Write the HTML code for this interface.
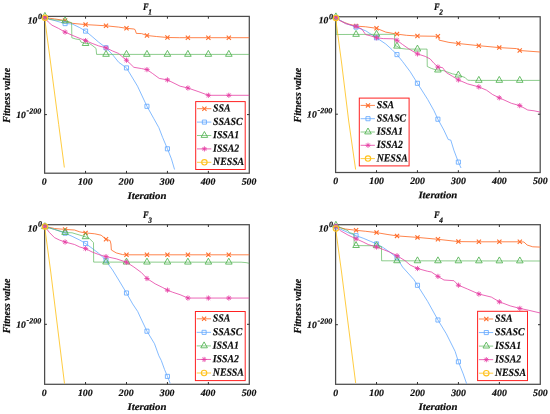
<!DOCTYPE html>
<html><head><meta charset="utf-8"><title>Convergence curves</title>
<style>
html,body{margin:0;padding:0;background:#fff}
svg{display:block}
text{font-family:"Liberation Serif",serif;font-weight:bold;font-style:italic;fill:#0c0c0c;stroke:#0c0c0c;stroke-width:.2px}
text.c{text-anchor:middle}
text.e{text-anchor:end}
.l{stroke-linejoin:round}
.m{stroke-width:.85}
.mx{stroke-width:1.1}
.mc{stroke-width:1.1}
</style></head>
<body>
<svg width="550" height="414" viewBox="0 0 550 414">
<rect width="550" height="414" fill="#fff"/>
<g id="plot1">
<clipPath id="c1"><rect x="44.62" y="16.4" width="205.28" height="156.79999999999998"/></clipPath>
<rect x="44.62" y="16.4" width="204.68" height="156.80" fill="none" stroke="#4c4c4c" stroke-width="1.25"/>
<path d="M85.56 173.2v-2.3M85.56 16.4v2.3M126.49 173.2v-2.3M126.49 16.4v2.3M167.43 173.2v-2.3M167.43 16.4v2.3M208.36 173.2v-2.3M208.36 16.4v2.3M44.62 114.6h2.3M249.3 114.6h-2.3" stroke="#2e2e2e" stroke-width="1" fill="none"/>
<g stroke="#FF6E2C" fill="none">
<path class="l" stroke-width="0.85" clip-path="url(#c1)" d="M44.62 17.65L54.44 18.90L65.09 20.50L72.05 23.30L85.56 24.60L96.04 25.20L106.02 25.80L118.71 27.10L126.49 28.30L133.86 29.00L135.09 29.60L136.32 33.40L141.64 33.60L146.96 35.50L156.38 36.50L167.43 37.50L179.71 37.70L249.30 37.70"/>
<path class="mx" d="M42.82 15.55L47.02 19.75M42.82 19.75L47.02 15.55"/><path class="mx" d="M62.99 18.40L67.19 22.60M62.99 22.60L67.19 18.40"/><path class="mx" d="M83.46 22.50L87.66 26.70M83.46 26.70L87.66 22.50"/><path class="mx" d="M103.92 23.70L108.12 27.90M103.92 27.90L108.12 23.70"/><path class="mx" d="M124.39 26.20L128.59 30.40M124.39 30.40L128.59 26.20"/><path class="mx" d="M144.86 33.40L149.06 37.60M144.86 37.60L149.06 33.40"/><path class="mx" d="M165.33 35.40L169.53 39.60M165.33 39.60L169.53 35.40"/><path class="mx" d="M185.80 35.60L190.00 39.80M185.80 39.80L190.00 35.60"/><path class="mx" d="M206.26 35.60L210.46 39.80M206.26 39.80L210.46 35.60"/><path class="mx" d="M226.73 35.60L230.93 39.80M226.73 39.80L230.93 35.60"/>
</g>
<g stroke="#64A9FF" fill="none">
<path class="l" stroke-width="0.8" clip-path="url(#c1)" d="M44.62 17.65L65.09 23.60L72.05 23.90L79.82 27.70L85.56 31.10L92.11 36.50L98.66 42.20L106.02 47.80L112.57 54.70L118.71 62.30L126.49 67.90L137.54 86.20L146.96 106.30L153.92 118.80L158.83 127.60L162.72 137.70L167.43 148.80L171.44 158.90L174.55 169.50"/>
<path class="m" d="M42.87 15.60h4.1v4.1h-4.1z"/><path class="m" d="M63.04 21.55h4.1v4.1h-4.1z"/><path class="m" d="M83.51 29.05h4.1v4.1h-4.1z"/><path class="m" d="M103.97 45.75h4.1v4.1h-4.1z"/><path class="m" d="M124.44 65.85h4.1v4.1h-4.1z"/><path class="m" d="M144.91 104.25h4.1v4.1h-4.1z"/><path class="m" d="M165.38 146.75h4.1v4.1h-4.1z"/>
</g>
<g stroke="#4FB24F" fill="none">
<path class="l" stroke-width="0.65" clip-path="url(#c1)" d="M44.62 16.40L45.44 17.40L49.53 19.50L65.09 20.90L71.64 22.70L71.84 37.75L75.73 39.00L79.82 39.60L81.05 42.20L85.56 43.60L89.65 43.60L92.11 45.30L96.04 48.40L96.61 54.40L249.30 54.40"/>
<path class="m" d="M44.92 12.40l3.3 5.9h-6.6z"/><path class="m" d="M65.09 16.90l3.3 5.9h-6.6z"/><path class="m" d="M85.56 39.60l3.3 5.9h-6.6z"/><path class="m" d="M106.02 50.40l3.3 5.9h-6.6z"/><path class="m" d="M126.49 50.40l3.3 5.9h-6.6z"/><path class="m" d="M146.96 50.40l3.3 5.9h-6.6z"/><path class="m" d="M167.43 50.40l3.3 5.9h-6.6z"/><path class="m" d="M187.90 50.40l3.3 5.9h-6.6z"/><path class="m" d="M208.36 50.40l3.3 5.9h-6.6z"/><path class="m" d="M228.83 50.40l3.3 5.9h-6.6z"/>
</g>
<g stroke="#E640A4" fill="none">
<path class="l" stroke-width="0.8" clip-path="url(#c1)" d="M44.62 17.65L48.30 22.00L51.99 25.20L58.33 28.30L65.09 32.10L72.05 35.20L79.82 38.40L85.56 40.60L92.11 43.40L98.66 45.90L106.02 47.80L112.57 51.00L118.71 53.50L121.38 56.00L126.49 60.20L133.86 67.30L141.64 68.60L146.96 69.60L152.69 73.60L159.24 78.40L167.43 79.90L180.12 86.20L187.90 88.00L198.95 91.80L208.36 95.30L249.30 95.30"/>
<path class="m" d="M42.32 17.65h5.2M44.92 15.05v5.2M43.08 15.81l3.68 3.68M43.08 19.49l3.68 -3.68"/><path class="m" d="M62.49 32.10h5.2M65.09 29.50v5.2M63.25 30.26l3.68 3.68M63.25 33.94l3.68 -3.68"/><path class="m" d="M82.96 40.60h5.2M85.56 38.00v5.2M83.72 38.76l3.68 3.68M83.72 42.44l3.68 -3.68"/><path class="m" d="M103.42 47.80h5.2M106.02 45.20v5.2M104.19 45.96l3.68 3.68M104.19 49.64l3.68 -3.68"/><path class="m" d="M123.89 60.20h5.2M126.49 57.60v5.2M124.65 58.36l3.68 3.68M124.65 62.04l3.68 -3.68"/><path class="m" d="M144.36 69.60h5.2M146.96 67.00v5.2M145.12 67.76l3.68 3.68M145.12 71.44l3.68 -3.68"/><path class="m" d="M164.83 79.90h5.2M167.43 77.30v5.2M165.59 78.06l3.68 3.68M165.59 81.74l3.68 -3.68"/><path class="m" d="M185.30 88.00h5.2M187.90 85.40v5.2M186.06 86.16l3.68 3.68M186.06 89.84l3.68 -3.68"/><path class="m" d="M205.76 95.30h5.2M208.36 92.70v5.2M206.53 93.46l3.68 3.68M206.53 97.14l3.68 -3.68"/><path class="m" d="M226.23 95.30h5.2M228.83 92.70v5.2M226.99 93.46l3.68 3.68M226.99 97.14l3.68 -3.68"/>
</g>
<g stroke="#FFC31F" fill="none">
<path class="l" stroke-width="0.85" clip-path="url(#c1)" d="M44.62 17.80L50.76 64.00L58.70 124.50L64.35 167.50"/>
<circle class="mc" cx="44.92" cy="17.80" r="2.7"/>
</g>
<text transform="translate(44.32 184.80) rotate(0.03)" font-size="9.8" class="c">0</text>
<text transform="translate(85.26 184.80) rotate(0.03)" font-size="9.8" class="c">100</text>
<text transform="translate(126.19 184.80) rotate(0.03)" font-size="9.8" class="c">200</text>
<text transform="translate(167.13 184.80) rotate(0.03)" font-size="9.8" class="c">300</text>
<text transform="translate(208.06 184.80) rotate(0.03)" font-size="9.8" class="c">400</text>
<text transform="translate(249.00 184.80) rotate(0.03)" font-size="9.8" class="c">500</text>
<text transform="translate(37.42 23.40) rotate(0.03)" font-size="9.6" class="e">10</text>
<text transform="translate(38.02 19.10) rotate(0.03)" font-size="8">0</text>
<text transform="translate(25.72 118.00) rotate(0.03)" font-size="9.6" class="e">10</text>
<text transform="translate(26.62 113.70) rotate(0.03)" font-size="8"><tspan dy="-0.9">-</tspan><tspan dy="0.9">200</tspan></text>
<text transform="translate(146.96 199.00) rotate(0.03) scale(1.08 1)" font-size="10" class="c">Iteration</text>
<text transform="translate(9.72 95.30) rotate(-90) scale(1.08 1)" font-size="9.3" class="c">Fitness value</text>
<text transform="translate(142.96 10.00) rotate(0.03) scale(0.86 1)" font-size="9.8">F</text>
<text transform="translate(148.36 14.50) rotate(0.03) scale(0.92 1)" font-size="8">1</text>
<rect x="195.7" y="101.6" width="49.50" height="67.90" fill="#fff" stroke="#FF2020" stroke-width="1"/>
<g stroke="#FF6E2C" fill="none"><path class="l" stroke-width="0.85" d="M197.00 108.70H211.30"/><path class="mx" d="M202.30 106.60L206.50 110.80M202.30 110.80L206.50 106.60"/></g>
<text transform="translate(213.10 111.50) rotate(0.03) scale(0.893 1)" font-size="11">SSA</text>
<g stroke="#64A9FF" fill="none"><path class="l" stroke-width="0.8" d="M197.00 122.10H211.30"/><path class="m" d="M202.35 120.05h4.1v4.1h-4.1z"/></g>
<text transform="translate(213.10 124.90) rotate(0.03) scale(0.893 1)" font-size="11">SSASC</text>
<g stroke="#4FB24F" fill="none"><path class="l" stroke-width="0.65" d="M197.00 135.50H211.30"/><path class="m" d="M204.40 131.50l3.3 5.9h-6.6z"/></g>
<text transform="translate(213.10 138.30) rotate(0.03) scale(0.893 1)" font-size="11">ISSA1</text>
<g stroke="#E640A4" fill="none"><path class="l" stroke-width="0.8" d="M197.00 148.90H211.30"/><path class="m" d="M201.80 148.90h5.2M204.40 146.30v5.2M202.56 147.06l3.68 3.68M202.56 150.74l3.68 -3.68"/></g>
<text transform="translate(213.10 151.70) rotate(0.03) scale(0.893 1)" font-size="11">ISSA2</text>
<g stroke="#FFC31F" fill="none"><path class="l" stroke-width="0.85" d="M197.00 162.30H211.30"/><circle class="mc" cx="204.40" cy="162.30" r="2.7"/></g>
<text transform="translate(213.10 165.10) rotate(0.03) scale(0.893 1)" font-size="11">NESSA</text>
</g>
<g id="plot2">
<clipPath id="c2"><rect x="335.6" y="16.75" width="205.20000000000002" height="155.75"/></clipPath>
<rect x="335.6" y="16.75" width="204.60" height="155.75" fill="none" stroke="#4c4c4c" stroke-width="1.25"/>
<path d="M376.52 172.5v-2.3M376.52 16.75v2.3M417.44 172.5v-2.3M417.44 16.75v2.3M458.36 172.5v-2.3M458.36 16.75v2.3M499.28 172.5v-2.3M499.28 16.75v2.3M335.6 114.2h2.3M540.2 114.2h-2.3" stroke="#2e2e2e" stroke-width="1" fill="none"/>
<g stroke="#FF6E2C" fill="none">
<path class="l" stroke-width="0.85" clip-path="url(#c2)" d="M335.60 17.65L340.51 20.80L348.08 23.90L356.06 26.10L365.68 26.80L376.52 28.30L385.77 32.10L396.98 34.10L406.39 35.30L417.44 36.00L437.90 36.30L438.72 36.50L439.00 40.10L448.95 42.40L458.36 43.50L478.82 45.70L499.28 47.60L516.47 48.60L519.74 50.50L540.20 52.00"/>
<path class="mx" d="M333.80 15.55L338.00 19.75M333.80 19.75L338.00 15.55"/><path class="mx" d="M353.96 24.00L358.16 28.20M353.96 28.20L358.16 24.00"/><path class="mx" d="M374.42 26.20L378.62 30.40M374.42 30.40L378.62 26.20"/><path class="mx" d="M394.88 32.00L399.08 36.20M394.88 36.20L399.08 32.00"/><path class="mx" d="M415.34 33.90L419.54 38.10M415.34 38.10L419.54 33.90"/><path class="mx" d="M435.80 34.20L440.00 38.40M435.80 38.40L440.00 34.20"/><path class="mx" d="M456.26 41.40L460.46 45.60M456.26 45.60L460.46 41.40"/><path class="mx" d="M476.72 43.60L480.92 47.80M476.72 47.80L480.92 43.60"/><path class="mx" d="M497.18 45.50L501.38 49.70M497.18 49.70L501.38 45.50"/><path class="mx" d="M517.64 48.40L521.84 52.60M517.64 52.60L521.84 48.40"/>
</g>
<g stroke="#64A9FF" fill="none">
<path class="l" stroke-width="0.8" clip-path="url(#c2)" d="M335.60 17.65L345.42 23.30L356.06 27.10L365.68 30.80L376.52 37.75L385.77 44.00L392.07 49.70L396.98 54.60L402.55 61.50L410.07 71.50L417.44 83.30L427.67 99.40L433.97 110.70L437.90 119.20L443.87 130.10L448.25 139.50L450.79 140.10L453.86 150.20L458.36 162.10L461.02 168.00"/>
<path class="m" d="M333.85 15.60h4.1v4.1h-4.1z"/><path class="m" d="M354.01 25.05h4.1v4.1h-4.1z"/><path class="m" d="M374.47 35.70h4.1v4.1h-4.1z"/><path class="m" d="M394.93 52.55h4.1v4.1h-4.1z"/><path class="m" d="M415.39 81.25h4.1v4.1h-4.1z"/><path class="m" d="M435.85 117.15h4.1v4.1h-4.1z"/><path class="m" d="M456.31 160.05h4.1v4.1h-4.1z"/>
</g>
<g stroke="#4FB24F" fill="none">
<path class="l" stroke-width="0.65" clip-path="url(#c2)" d="M335.60 16.90L336.01 18.00L336.25 34.50L394.52 34.30L394.69 45.80L396.98 46.20L400.05 48.30L406.39 49.10L427.06 49.10L427.26 66.50L431.35 68.40L435.24 69.60L437.90 70.10L443.83 70.70L452.63 73.90L458.36 75.10L465.19 77.60L467.69 80.20L470.64 80.40L540.20 80.40"/>
<path class="m" d="M335.90 12.90l3.3 5.9h-6.6z"/><path class="m" d="M356.06 30.43l3.3 5.9h-6.6z"/><path class="m" d="M376.52 30.36l3.3 5.9h-6.6z"/><path class="m" d="M396.98 42.20l3.3 5.9h-6.6z"/><path class="m" d="M417.44 45.10l3.3 5.9h-6.6z"/><path class="m" d="M437.90 66.10l3.3 5.9h-6.6z"/><path class="m" d="M458.36 71.10l3.3 5.9h-6.6z"/><path class="m" d="M478.82 76.40l3.3 5.9h-6.6z"/><path class="m" d="M499.28 76.40l3.3 5.9h-6.6z"/><path class="m" d="M519.74 76.40l3.3 5.9h-6.6z"/>
</g>
<g stroke="#E640A4" fill="none">
<path class="l" stroke-width="0.8" clip-path="url(#c2)" d="M335.60 17.65L340.51 20.80L345.42 23.60L356.06 26.40L361.79 29.00L365.68 34.60L370.79 35.90L376.52 37.75L383.27 38.60L393.30 38.80L396.98 40.30L402.55 44.50L408.85 48.90L417.44 53.90L425.21 56.40L430.13 58.90L433.97 63.30L437.90 67.00L442.56 67.60L446.33 72.60L452.63 76.40L458.36 79.90L467.69 83.90L478.82 86.90L486.55 90.20L492.73 94.60L499.28 97.80L511.39 103.30L519.74 105.60L527.72 110.00L534.06 110.80L540.20 112.10"/>
<path class="m" d="M333.30 17.65h5.2M335.90 15.05v5.2M334.06 15.81l3.68 3.68M334.06 19.49l3.68 -3.68"/><path class="m" d="M353.46 26.40h5.2M356.06 23.80v5.2M354.22 24.56l3.68 3.68M354.22 28.24l3.68 -3.68"/><path class="m" d="M373.92 37.75h5.2M376.52 35.15v5.2M374.68 35.91l3.68 3.68M374.68 39.59l3.68 -3.68"/><path class="m" d="M394.38 40.30h5.2M396.98 37.70v5.2M395.14 38.46l3.68 3.68M395.14 42.14l3.68 -3.68"/><path class="m" d="M414.84 53.90h5.2M417.44 51.30v5.2M415.60 52.06l3.68 3.68M415.60 55.74l3.68 -3.68"/><path class="m" d="M435.30 67.00h5.2M437.90 64.40v5.2M436.06 65.16l3.68 3.68M436.06 68.84l3.68 -3.68"/><path class="m" d="M455.76 79.90h5.2M458.36 77.30v5.2M456.52 78.06l3.68 3.68M456.52 81.74l3.68 -3.68"/><path class="m" d="M476.22 86.90h5.2M478.82 84.30v5.2M476.98 85.06l3.68 3.68M476.98 88.74l3.68 -3.68"/><path class="m" d="M496.68 97.80h5.2M499.28 95.20v5.2M497.44 95.96l3.68 3.68M497.44 99.64l3.68 -3.68"/><path class="m" d="M517.14 105.60h5.2M519.74 103.00v5.2M517.90 103.76l3.68 3.68M517.90 107.44l3.68 -3.68"/>
</g>
<g stroke="#FFC31F" fill="none">
<path class="l" stroke-width="0.85" clip-path="url(#c2)" d="M335.60 18.00L341.74 64.00L348.69 121.00L355.61 169.50"/>
<circle class="mc" cx="335.90" cy="18.00" r="2.7"/>
</g>
<text transform="translate(335.70 184.10) rotate(0.03)" font-size="9.8" class="c">0</text>
<text transform="translate(376.62 184.10) rotate(0.03)" font-size="9.8" class="c">100</text>
<text transform="translate(417.54 184.10) rotate(0.03)" font-size="9.8" class="c">200</text>
<text transform="translate(458.46 184.10) rotate(0.03)" font-size="9.8" class="c">300</text>
<text transform="translate(499.38 184.10) rotate(0.03)" font-size="9.8" class="c">400</text>
<text transform="translate(540.30 184.10) rotate(0.03)" font-size="9.8" class="c">500</text>
<text transform="translate(328.40 23.35) rotate(0.03)" font-size="9.6" class="e">10</text>
<text transform="translate(329.00 19.15) rotate(0.03)" font-size="8">0</text>
<text transform="translate(316.70 117.60) rotate(0.03)" font-size="9.6" class="e">10</text>
<text transform="translate(317.60 113.30) rotate(0.03)" font-size="8"><tspan dy="-0.9">-</tspan><tspan dy="0.9">200</tspan></text>
<text transform="translate(437.90 198.30) rotate(0.03) scale(1.08 1)" font-size="10" class="c">Iteration</text>
<text transform="translate(301.10 95.12) rotate(-90) scale(1.08 1)" font-size="9.3" class="c">Fitness value</text>
<text transform="translate(433.90 10.35) rotate(0.03) scale(0.86 1)" font-size="9.8">F</text>
<text transform="translate(439.30 14.85) rotate(0.03) scale(0.92 1)" font-size="8">2</text>
<rect x="359.3" y="98.1" width="49.80" height="67.80" fill="#fff" stroke="#FF2020" stroke-width="1"/>
<g stroke="#FF6E2C" fill="none"><path class="l" stroke-width="0.85" d="M360.60 105.40H374.90"/><path class="mx" d="M365.90 103.30L370.10 107.50M365.90 107.50L370.10 103.30"/></g>
<text transform="translate(376.70 108.20) rotate(0.03) scale(0.893 1)" font-size="11">SSA</text>
<g stroke="#64A9FF" fill="none"><path class="l" stroke-width="0.8" d="M360.60 118.70H374.90"/><path class="m" d="M365.95 116.65h4.1v4.1h-4.1z"/></g>
<text transform="translate(376.70 121.50) rotate(0.03) scale(0.893 1)" font-size="11">SSASC</text>
<g stroke="#4FB24F" fill="none"><path class="l" stroke-width="0.65" d="M360.60 132.00H374.90"/><path class="m" d="M368.00 128.00l3.3 5.9h-6.6z"/></g>
<text transform="translate(376.70 134.80) rotate(0.03) scale(0.893 1)" font-size="11">ISSA1</text>
<g stroke="#E640A4" fill="none"><path class="l" stroke-width="0.8" d="M360.60 145.30H374.90"/><path class="m" d="M365.40 145.30h5.2M368.00 142.70v5.2M366.16 143.46l3.68 3.68M366.16 147.14l3.68 -3.68"/></g>
<text transform="translate(376.70 148.10) rotate(0.03) scale(0.893 1)" font-size="11">ISSA2</text>
<g stroke="#FFC31F" fill="none"><path class="l" stroke-width="0.85" d="M360.60 158.60H374.90"/><circle class="mc" cx="368.00" cy="158.60" r="2.7"/></g>
<text transform="translate(376.70 161.40) rotate(0.03) scale(0.893 1)" font-size="11">NESSA</text>
</g>
<g id="plot3">
<clipPath id="c3"><rect x="44.62" y="224.7" width="205.28" height="159.60000000000002"/></clipPath>
<rect x="44.62" y="224.7" width="204.68" height="159.60" fill="none" stroke="#4c4c4c" stroke-width="1.25"/>
<path d="M85.56 384.3v-2.3M85.56 224.7v2.3M126.49 384.3v-2.3M126.49 224.7v2.3M167.43 384.3v-2.3M167.43 224.7v2.3M208.36 384.3v-2.3M208.36 224.7v2.3M44.62 324.3h2.3M249.3 324.3h-2.3" stroke="#2e2e2e" stroke-width="1" fill="none"/>
<g stroke="#FF6E2C" fill="none">
<path class="l" stroke-width="0.85" clip-path="url(#c3)" d="M44.62 226.30L54.44 228.50L65.09 229.40L74.50 230.00L79.82 231.90L85.56 232.90L94.77 233.80L101.11 235.20L106.02 239.20L110.12 240.60L110.94 244.00L111.35 250.00L116.26 252.90L122.60 254.60L126.49 254.80L249.30 254.80"/>
<path class="mx" d="M42.82 224.20L47.02 228.40M42.82 228.40L47.02 224.20"/><path class="mx" d="M62.99 227.30L67.19 231.50M62.99 231.50L67.19 227.30"/><path class="mx" d="M83.46 230.80L87.66 235.00M83.46 235.00L87.66 230.80"/><path class="mx" d="M103.92 237.10L108.12 241.30M103.92 241.30L108.12 237.10"/><path class="mx" d="M124.39 252.70L128.59 256.90M124.39 256.90L128.59 252.70"/><path class="mx" d="M144.86 252.70L149.06 256.90M144.86 256.90L149.06 252.70"/><path class="mx" d="M165.33 252.70L169.53 256.90M165.33 256.90L169.53 252.70"/><path class="mx" d="M185.80 252.70L190.00 256.90M185.80 256.90L190.00 252.70"/><path class="mx" d="M206.26 252.70L210.46 256.90M206.26 256.90L210.46 252.70"/><path class="mx" d="M226.73 252.70L230.93 256.90M226.73 256.90L230.93 252.70"/>
</g>
<g stroke="#64A9FF" fill="none">
<path class="l" stroke-width="0.8" clip-path="url(#c3)" d="M44.62 226.30L54.44 229.40L65.09 233.20L72.05 236.30L79.82 240.10L85.56 243.50L92.11 248.30L98.66 253.30L106.02 260.20L109.42 265.70L112.57 270.00L118.71 280.00L126.49 293.00L132.63 303.90L137.71 311.50L140.70 318.00L146.96 331.20L154.53 343.75L158.83 355.70L161.29 360.50L164.56 369.50L167.43 376.40L170.17 383.30"/>
<path class="m" d="M42.87 224.25h4.1v4.1h-4.1z"/><path class="m" d="M63.04 231.15h4.1v4.1h-4.1z"/><path class="m" d="M83.51 241.45h4.1v4.1h-4.1z"/><path class="m" d="M103.97 258.15h4.1v4.1h-4.1z"/><path class="m" d="M124.44 290.95h4.1v4.1h-4.1z"/><path class="m" d="M144.91 329.15h4.1v4.1h-4.1z"/><path class="m" d="M165.38 374.35h4.1v4.1h-4.1z"/>
</g>
<g stroke="#4FB24F" fill="none">
<path class="l" stroke-width="0.65" clip-path="url(#c3)" d="M44.62 226.70L54.44 229.40L65.09 232.50L72.05 232.80L79.82 235.10L85.56 236.80L89.65 238.80L93.50 242.60L93.66 262.10L241.11 262.20L246.03 262.60L249.30 263.30"/>
<path class="m" d="M44.92 222.70l3.3 5.9h-6.6z"/><path class="m" d="M65.09 228.50l3.3 5.9h-6.6z"/><path class="m" d="M85.56 232.80l3.3 5.9h-6.6z"/><path class="m" d="M106.02 258.11l3.3 5.9h-6.6z"/><path class="m" d="M126.49 258.12l3.3 5.9h-6.6z"/><path class="m" d="M146.96 258.14l3.3 5.9h-6.6z"/><path class="m" d="M167.43 258.15l3.3 5.9h-6.6z"/><path class="m" d="M187.90 258.16l3.3 5.9h-6.6z"/><path class="m" d="M208.36 258.18l3.3 5.9h-6.6z"/><path class="m" d="M228.83 258.19l3.3 5.9h-6.6z"/>
</g>
<g stroke="#E640A4" fill="none">
<path class="l" stroke-width="0.8" clip-path="url(#c3)" d="M44.62 226.30L49.53 232.60L54.44 237.60L59.60 240.10L65.09 242.00L74.50 244.50L79.82 247.00L85.56 248.60L92.11 252.00L98.66 254.50L106.02 256.60L116.26 258.80L126.49 262.20L133.86 267.00L141.47 272.60L146.96 278.50L155.15 283.80L162.80 287.60L167.43 290.10L172.54 292.20L180.12 294.70L187.90 298.05L249.30 298.05"/>
<path class="m" d="M42.32 226.30h5.2M44.92 223.70v5.2M43.08 224.46l3.68 3.68M43.08 228.14l3.68 -3.68"/><path class="m" d="M62.49 242.00h5.2M65.09 239.40v5.2M63.25 240.16l3.68 3.68M63.25 243.84l3.68 -3.68"/><path class="m" d="M82.96 248.60h5.2M85.56 246.00v5.2M83.72 246.76l3.68 3.68M83.72 250.44l3.68 -3.68"/><path class="m" d="M103.42 256.60h5.2M106.02 254.00v5.2M104.19 254.76l3.68 3.68M104.19 258.44l3.68 -3.68"/><path class="m" d="M123.89 262.20h5.2M126.49 259.60v5.2M124.65 260.36l3.68 3.68M124.65 264.04l3.68 -3.68"/><path class="m" d="M144.36 278.50h5.2M146.96 275.90v5.2M145.12 276.66l3.68 3.68M145.12 280.34l3.68 -3.68"/><path class="m" d="M164.83 290.10h5.2M167.43 287.50v5.2M165.59 288.26l3.68 3.68M165.59 291.94l3.68 -3.68"/><path class="m" d="M185.30 298.05h5.2M187.90 295.45v5.2M186.06 296.21l3.68 3.68M186.06 299.89l3.68 -3.68"/><path class="m" d="M205.76 298.05h5.2M208.36 295.45v5.2M206.53 296.21l3.68 3.68M206.53 299.89l3.68 -3.68"/><path class="m" d="M226.23 298.05h5.2M228.83 295.45v5.2M226.99 296.21l3.68 3.68M226.99 299.89l3.68 -3.68"/>
</g>
<g stroke="#FFC31F" fill="none">
<path class="l" stroke-width="0.85" clip-path="url(#c3)" d="M44.62 226.40L50.76 272.00L64.51 383.60"/>
<circle class="mc" cx="44.92" cy="226.40" r="2.7"/>
</g>
<text transform="translate(44.32 395.90) rotate(0.03)" font-size="9.8" class="c">0</text>
<text transform="translate(85.26 395.90) rotate(0.03)" font-size="9.8" class="c">100</text>
<text transform="translate(126.19 395.90) rotate(0.03)" font-size="9.8" class="c">200</text>
<text transform="translate(167.13 395.90) rotate(0.03)" font-size="9.8" class="c">300</text>
<text transform="translate(208.06 395.90) rotate(0.03)" font-size="9.8" class="c">400</text>
<text transform="translate(249.00 395.90) rotate(0.03)" font-size="9.8" class="c">500</text>
<text transform="translate(37.42 231.50) rotate(0.03)" font-size="9.6" class="e">10</text>
<text transform="translate(38.02 226.50) rotate(0.03)" font-size="8">0</text>
<text transform="translate(25.72 327.70) rotate(0.03)" font-size="9.6" class="e">10</text>
<text transform="translate(26.62 323.40) rotate(0.03)" font-size="8"><tspan dy="-0.9">-</tspan><tspan dy="0.9">200</tspan></text>
<text transform="translate(146.96 410.10) rotate(0.03) scale(1.08 1)" font-size="10" class="c">Iteration</text>
<text transform="translate(9.72 305.90) rotate(-90) scale(1.08 1)" font-size="9.3" class="c">Fitness value</text>
<text transform="translate(142.96 218.30) rotate(0.03) scale(0.86 1)" font-size="9.8">F</text>
<text transform="translate(148.36 222.80) rotate(0.03) scale(0.92 1)" font-size="8">3</text>
<rect x="195.4" y="311.5" width="49.80" height="69.10" fill="#fff" stroke="#FF2020" stroke-width="1"/>
<g stroke="#FF6E2C" fill="none"><path class="l" stroke-width="0.85" d="M196.70 318.80H211.00"/><path class="mx" d="M202.00 316.70L206.20 320.90M202.00 320.90L206.20 316.70"/></g>
<text transform="translate(212.80 321.60) rotate(0.03) scale(0.893 1)" font-size="11">SSA</text>
<g stroke="#64A9FF" fill="none"><path class="l" stroke-width="0.8" d="M196.70 332.35H211.00"/><path class="m" d="M202.05 330.30h4.1v4.1h-4.1z"/></g>
<text transform="translate(212.80 335.15) rotate(0.03) scale(0.893 1)" font-size="11">SSASC</text>
<g stroke="#4FB24F" fill="none"><path class="l" stroke-width="0.65" d="M196.70 345.90H211.00"/><path class="m" d="M204.10 341.90l3.3 5.9h-6.6z"/></g>
<text transform="translate(212.80 348.70) rotate(0.03) scale(0.893 1)" font-size="11">ISSA1</text>
<g stroke="#E640A4" fill="none"><path class="l" stroke-width="0.8" d="M196.70 359.45H211.00"/><path class="m" d="M201.50 359.45h5.2M204.10 356.85v5.2M202.26 357.61l3.68 3.68M202.26 361.29l3.68 -3.68"/></g>
<text transform="translate(212.80 362.25) rotate(0.03) scale(0.893 1)" font-size="11">ISSA2</text>
<g stroke="#FFC31F" fill="none"><path class="l" stroke-width="0.85" d="M196.70 373.00H211.00"/><circle class="mc" cx="204.10" cy="373.00" r="2.7"/></g>
<text transform="translate(212.80 375.80) rotate(0.03) scale(0.893 1)" font-size="11">NESSA</text>
</g>
<g id="plot4">
<clipPath id="c4"><rect x="335.6" y="224.7" width="205.29999999999993" height="159.60000000000002"/></clipPath>
<rect x="335.6" y="224.7" width="204.70" height="159.60" fill="none" stroke="#4c4c4c" stroke-width="1.25"/>
<path d="M376.54 384.3v-2.3M376.54 224.7v2.3M417.48 384.3v-2.3M417.48 224.7v2.3M458.42 384.3v-2.3M458.42 224.7v2.3M499.36 384.3v-2.3M499.36 224.7v2.3M335.6 324.7h2.3M540.3 324.7h-2.3" stroke="#2e2e2e" stroke-width="1" fill="none"/>
<g stroke="#FF6E2C" fill="none">
<path class="l" stroke-width="0.85" clip-path="url(#c4)" d="M335.60 226.50L345.43 229.00L356.07 230.30L365.69 231.30L376.54 232.60L387.02 234.40L397.01 235.90L417.48 237.40L437.95 239.30L458.42 241.60L478.89 241.80L519.83 241.80L523.92 242.00L527.12 245.00L532.77 246.80L540.30 247.10"/>
<path class="mx" d="M333.80 224.40L338.00 228.60M333.80 228.60L338.00 224.40"/><path class="mx" d="M353.97 228.20L358.17 232.40M353.97 232.40L358.17 228.20"/><path class="mx" d="M374.44 230.50L378.64 234.70M374.44 234.70L378.64 230.50"/><path class="mx" d="M394.91 233.80L399.11 238.00M394.91 238.00L399.11 233.80"/><path class="mx" d="M415.38 235.30L419.58 239.50M415.38 239.50L419.58 235.30"/><path class="mx" d="M435.85 237.20L440.05 241.40M435.85 241.40L440.05 237.20"/><path class="mx" d="M456.32 239.50L460.52 243.70M456.32 243.70L460.52 239.50"/><path class="mx" d="M476.79 239.70L480.99 243.90M476.79 243.90L480.99 239.70"/><path class="mx" d="M497.26 239.70L501.46 243.90M497.26 243.90L501.46 239.70"/><path class="mx" d="M517.73 239.70L521.93 243.90M517.73 243.90L521.93 239.70"/>
</g>
<g stroke="#64A9FF" fill="none">
<path class="l" stroke-width="0.8" clip-path="url(#c4)" d="M335.60 226.90L348.09 232.60L356.07 235.70L363.15 238.20L370.69 241.40L376.54 243.90L383.25 247.60L389.56 252.00L397.01 257.70L402.54 267.00L413.80 279.50L417.48 285.30L427.63 301.40L437.95 320.00L446.34 333.80L455.14 351.40L458.42 361.80L463.21 373.90L466.61 383.70"/>
<path class="m" d="M333.85 224.85h4.1v4.1h-4.1z"/><path class="m" d="M354.02 233.65h4.1v4.1h-4.1z"/><path class="m" d="M374.49 241.85h4.1v4.1h-4.1z"/><path class="m" d="M394.96 255.65h4.1v4.1h-4.1z"/><path class="m" d="M415.43 283.25h4.1v4.1h-4.1z"/><path class="m" d="M435.90 317.95h4.1v4.1h-4.1z"/><path class="m" d="M456.37 359.75h4.1v4.1h-4.1z"/>
</g>
<g stroke="#4FB24F" fill="none">
<path class="l" stroke-width="0.65" clip-path="url(#c4)" d="M335.60 225.30L342.97 228.80L348.09 230.70L349.36 232.60L353.74 233.80L354.02 236.00L354.15 245.60L376.95 245.75L381.45 246.60L381.62 260.80L540.30 261.00"/>
<path class="m" d="M335.90 221.30l3.3 5.9h-6.6z"/><path class="m" d="M356.07 241.61l3.3 5.9h-6.6z"/><path class="m" d="M376.54 241.75l3.3 5.9h-6.6z"/><path class="m" d="M397.01 256.82l3.3 5.9h-6.6z"/><path class="m" d="M417.48 256.85l3.3 5.9h-6.6z"/><path class="m" d="M437.95 256.87l3.3 5.9h-6.6z"/><path class="m" d="M458.42 256.90l3.3 5.9h-6.6z"/><path class="m" d="M478.89 256.92l3.3 5.9h-6.6z"/><path class="m" d="M499.36 256.95l3.3 5.9h-6.6z"/><path class="m" d="M519.83 256.97l3.3 5.9h-6.6z"/>
</g>
<g stroke="#E640A4" fill="none">
<path class="l" stroke-width="0.8" clip-path="url(#c4)" d="M335.60 226.00L340.51 230.70L348.09 235.10L356.07 238.80L363.15 242.00L368.19 244.50L376.54 247.00L383.25 249.50L389.56 252.00L397.01 255.70L405.08 260.70L410.11 265.00L417.48 268.50L427.71 271.30L431.40 272.00L437.95 276.40L443.97 280.00L453.92 280.70L458.42 285.20L467.43 289.00L478.89 294.00L491.38 297.10L499.36 301.80L510.25 305.90L519.83 308.40L528.84 310.30L540.30 313.00"/>
<path class="m" d="M333.30 226.00h5.2M335.90 223.40v5.2M334.06 224.16l3.68 3.68M334.06 227.84l3.68 -3.68"/><path class="m" d="M353.47 238.80h5.2M356.07 236.20v5.2M354.23 236.96l3.68 3.68M354.23 240.64l3.68 -3.68"/><path class="m" d="M373.94 247.00h5.2M376.54 244.40v5.2M374.70 245.16l3.68 3.68M374.70 248.84l3.68 -3.68"/><path class="m" d="M394.41 255.70h5.2M397.01 253.10v5.2M395.17 253.86l3.68 3.68M395.17 257.54l3.68 -3.68"/><path class="m" d="M414.88 268.50h5.2M417.48 265.90v5.2M415.64 266.66l3.68 3.68M415.64 270.34l3.68 -3.68"/><path class="m" d="M435.35 276.40h5.2M437.95 273.80v5.2M436.11 274.56l3.68 3.68M436.11 278.24l3.68 -3.68"/><path class="m" d="M455.82 285.20h5.2M458.42 282.60v5.2M456.58 283.36l3.68 3.68M456.58 287.04l3.68 -3.68"/><path class="m" d="M476.29 294.00h5.2M478.89 291.40v5.2M477.05 292.16l3.68 3.68M477.05 295.84l3.68 -3.68"/><path class="m" d="M496.76 301.80h5.2M499.36 299.20v5.2M497.52 299.96l3.68 3.68M497.52 303.64l3.68 -3.68"/><path class="m" d="M517.23 308.40h5.2M519.83 305.80v5.2M517.99 306.56l3.68 3.68M517.99 310.24l3.68 -3.68"/>
</g>
<g stroke="#FFC31F" fill="none">
<path class="l" stroke-width="0.85" clip-path="url(#c4)" d="M335.60 228.60L341.54 272.00L355.66 383.00"/>
<circle class="mc" cx="335.90" cy="228.60" r="2.7"/>
</g>
<text transform="translate(335.70 395.90) rotate(0.03)" font-size="9.8" class="c">0</text>
<text transform="translate(376.64 395.90) rotate(0.03)" font-size="9.8" class="c">100</text>
<text transform="translate(417.58 395.90) rotate(0.03)" font-size="9.8" class="c">200</text>
<text transform="translate(458.52 395.90) rotate(0.03)" font-size="9.8" class="c">300</text>
<text transform="translate(499.46 395.90) rotate(0.03)" font-size="9.8" class="c">400</text>
<text transform="translate(540.40 395.90) rotate(0.03)" font-size="9.8" class="c">500</text>
<text transform="translate(328.40 231.50) rotate(0.03)" font-size="9.6" class="e">10</text>
<text transform="translate(329.00 226.90) rotate(0.03)" font-size="8">0</text>
<text transform="translate(316.70 328.10) rotate(0.03)" font-size="9.6" class="e">10</text>
<text transform="translate(317.60 323.80) rotate(0.03)" font-size="8"><tspan dy="-0.9">-</tspan><tspan dy="0.9">200</tspan></text>
<text transform="translate(437.95 410.10) rotate(0.03) scale(1.08 1)" font-size="10" class="c">Iteration</text>
<text transform="translate(301.10 306.10) rotate(-90) scale(1.08 1)" font-size="9.3" class="c">Fitness value</text>
<text transform="translate(433.95 218.30) rotate(0.03) scale(0.86 1)" font-size="9.8">F</text>
<text transform="translate(439.35 222.80) rotate(0.03) scale(0.92 1)" font-size="8">4</text>
<rect x="477.6" y="311.3" width="49.90" height="69.30" fill="#fff" stroke="#FF2020" stroke-width="1"/>
<g stroke="#FF6E2C" fill="none"><path class="l" stroke-width="0.85" d="M478.90 319.00H493.20"/><path class="mx" d="M484.20 316.90L488.40 321.10M484.20 321.10L488.40 316.90"/></g>
<text transform="translate(495.00 321.80) rotate(0.03) scale(0.893 1)" font-size="11">SSA</text>
<g stroke="#64A9FF" fill="none"><path class="l" stroke-width="0.8" d="M478.90 332.55H493.20"/><path class="m" d="M484.25 330.50h4.1v4.1h-4.1z"/></g>
<text transform="translate(495.00 335.35) rotate(0.03) scale(0.893 1)" font-size="11">SSASC</text>
<g stroke="#4FB24F" fill="none"><path class="l" stroke-width="0.65" d="M478.90 346.10H493.20"/><path class="m" d="M486.30 342.10l3.3 5.9h-6.6z"/></g>
<text transform="translate(495.00 348.90) rotate(0.03) scale(0.893 1)" font-size="11">ISSA1</text>
<g stroke="#E640A4" fill="none"><path class="l" stroke-width="0.8" d="M478.90 359.65H493.20"/><path class="m" d="M483.70 359.65h5.2M486.30 357.05v5.2M484.46 357.81l3.68 3.68M484.46 361.49l3.68 -3.68"/></g>
<text transform="translate(495.00 362.45) rotate(0.03) scale(0.893 1)" font-size="11">ISSA2</text>
<g stroke="#FFC31F" fill="none"><path class="l" stroke-width="0.85" d="M478.90 373.20H493.20"/><circle class="mc" cx="486.30" cy="373.20" r="2.7"/></g>
<text transform="translate(495.00 376.00) rotate(0.03) scale(0.893 1)" font-size="11">NESSA</text>
</g>
</svg>
</body></html>
